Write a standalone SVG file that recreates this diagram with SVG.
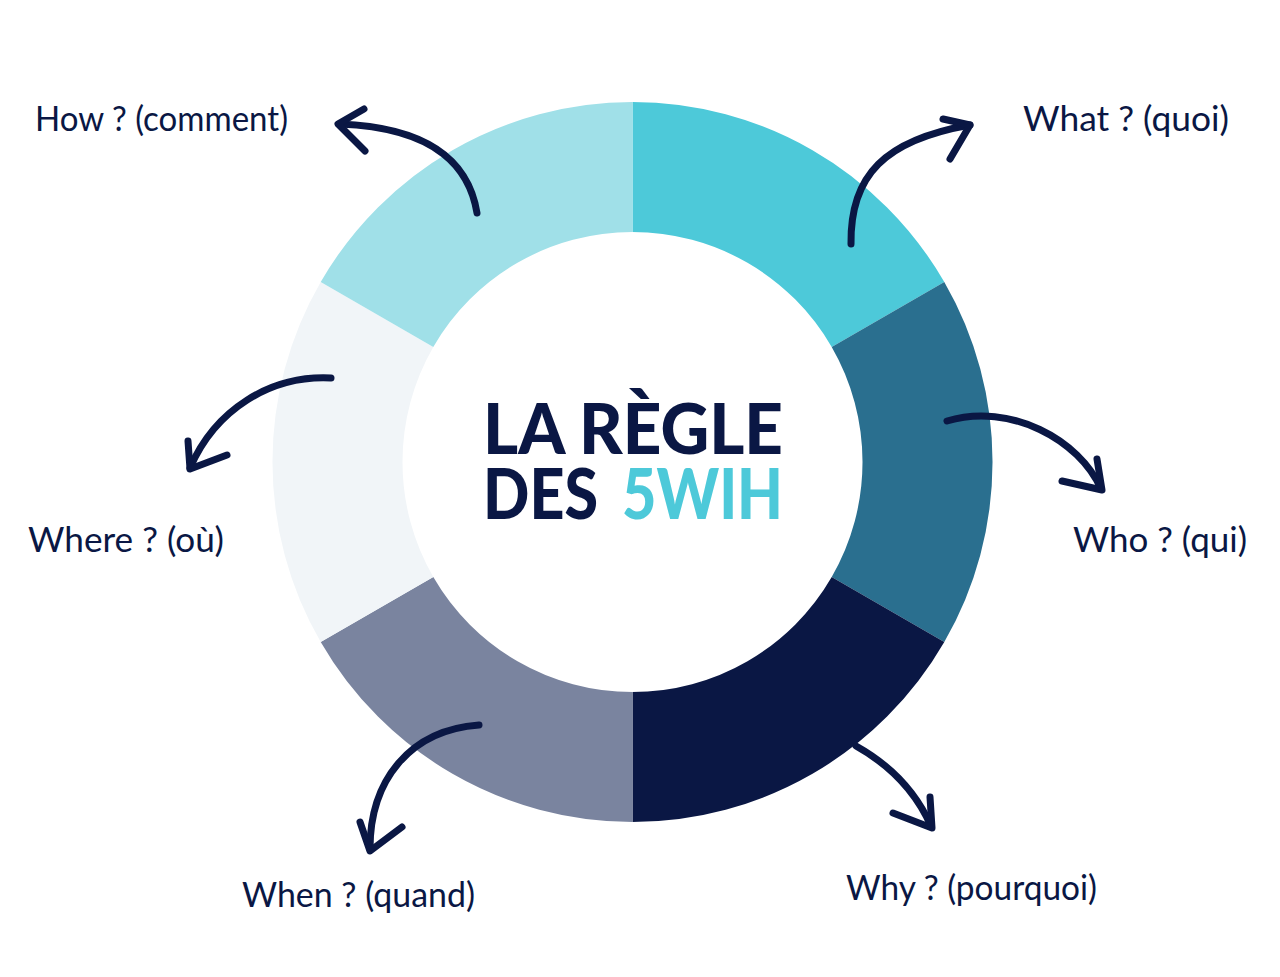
<svg xmlns="http://www.w3.org/2000/svg" width="1280" height="977" viewBox="0 0 1280 977">
<style>
.lbl{font-family:"Lato","Open Sans","Liberation Sans",sans-serif;font-size:34px;fill:#0A1744}
.ttl{font-family:"Lato","Noto Sans","Liberation Sans",sans-serif;font-size:70px;font-weight:900;fill:#0A1744}
.arr{fill:none;stroke:#0A1744;stroke-width:7;stroke-linecap:round;stroke-linejoin:round}
</style>
<rect width="1280" height="977" fill="#ffffff"/>
<g id="donut">
<path id="seg-what" d="M632.5,102 A360,360 0 0 1 944.3,282 L831.7,347 A230,230 0 0 0 632.5,232 Z" fill="#4DC9D9"/>
<path id="seg-who" d="M944.3,282 A360,360 0 0 1 944.3,642 L831.7,577 A230,230 0 0 0 831.7,347 Z" fill="#2A6F8F"/>
<path id="seg-why" d="M944.3,642 A360,360 0 0 1 632.5,822 L632.5,692 A230,230 0 0 0 831.7,577 Z" fill="#0A1744"/>
<path id="seg-when" d="M632.5,822 A360,360 0 0 1 320.7,642 L433.3,577 A230,230 0 0 0 632.5,692 Z" fill="#7A849F"/>
<path id="seg-where" d="M320.7,642 A360,360 0 0 1 320.7,282 L433.3,347 A230,230 0 0 0 433.3,577 Z" fill="#F1F5F8"/>
<path id="seg-how" d="M320.7,282 A360,360 0 0 1 632.5,102 L632.5,232 A230,230 0 0 0 433.3,347 Z" fill="#A0E0E8"/>
</g>
<g id="title">
<text class="ttl"><tspan x="483" y="454" textLength="300" lengthAdjust="spacingAndGlyphs">LA RÈGLE</tspan><tspan x="483" y="519" textLength="115" lengthAdjust="spacingAndGlyphs">DES</tspan><tspan x="622" y="519" textLength="161" lengthAdjust="spacingAndGlyphs" style="fill:#4DC9D9">5WIH</tspan></text>
</g>
<g id="connectors">
<path class="arr" d="M477,213 C470,170 440,128 340,124"/>
<path class="arr" d="M364,109 L338,124 L365,151"/>
<path class="arr" d="M851,244 C850,175 885,140 970,125"/>
<path class="arr" d="M943,119 L970,125 L950,159"/>
<path class="arr" d="M331,378 C270,375 215,410 190,468"/>
<path class="arr" d="M188,441 L190,469 L227,455"/>
<path class="arr" d="M947,421 C1010,402 1080,440 1101,489"/>
<path class="arr" d="M1097,459 L1102,490 L1062,481"/>
<path class="arr" d="M479,725 C410,730 370,780 370,849"/>
<path class="arr" d="M360,822 L370,851 L402,827"/>
<path class="arr" d="M856,746 C890,765 915,790 931,826"/>
<path class="arr" d="M930,797 L932,828 L893,813"/>
</g>
<g id="label-how"><text class="lbl" x="35" y="131" textLength="253" lengthAdjust="spacingAndGlyphs">How ? (comment)</text></g>
<g id="label-what"><text class="lbl" x="1023" y="131" textLength="206" lengthAdjust="spacingAndGlyphs">What ? (quoi)</text></g>
<g id="label-where"><text class="lbl" x="28" y="552" textLength="196" lengthAdjust="spacingAndGlyphs">Where ? (où)</text></g>
<g id="label-who"><text class="lbl" x="1073" y="552" textLength="174" lengthAdjust="spacingAndGlyphs">Who ? (qui)</text></g>
<g id="label-when"><text class="lbl" x="242" y="907" textLength="233" lengthAdjust="spacingAndGlyphs">When ? (quand)</text></g>
<g id="label-why"><text class="lbl" x="846" y="900" textLength="251" lengthAdjust="spacingAndGlyphs">Why ? (pourquoi)</text></g>
</svg>
